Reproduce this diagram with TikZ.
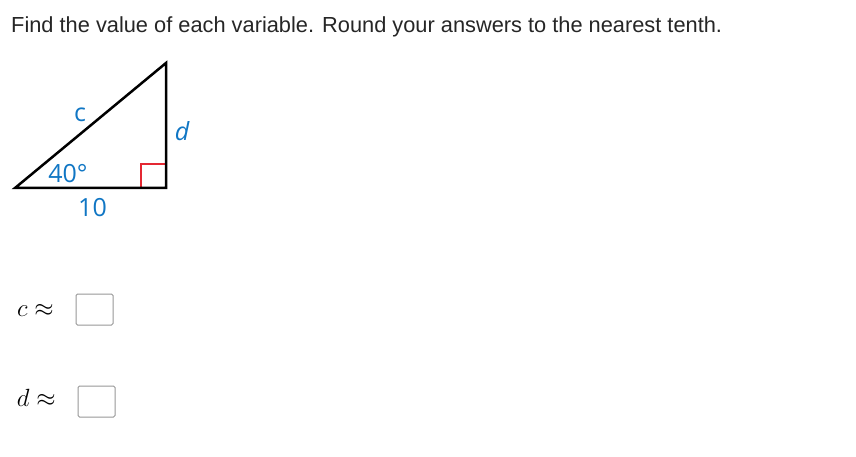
\documentclass[tikz,border=0pt]{standalone}
\usepackage{fontspec}
\setmainfont{Liberation Sans}
\newfontfamily\labelfont{Open Sans}
\usepackage{xcolor}
\usetikzlibrary{positioning}
\definecolor{labelblue}{RGB}{16,118,196}
\definecolor{markred}{RGB}{228,40,50}
\definecolor{boxgray}{RGB}{150,150,150}

\begin{document}
\begin{tikzpicture}[x=1pt, y=-1pt,
    % Styles
    prompt/.style={
        anchor=base west,
        inner sep=0pt,
        font=\fontsize{21.8}{24}\selectfont,
        text=black!85
    },
    sidelabel/.style={
        inner sep=0pt,
        text=labelblue,
        font=\labelfont\fontsize{25}{28}\selectfont
    },
    answer/.style={
        anchor=base east,
        inner sep=0pt,
        font=\fontsize{28}{30}\selectfont
    },
    answerbox/.style={
        rectangle,
        rounded corners=1.5pt,
        draw=boxgray,
        line width=1pt,
        minimum width=37pt,
        minimum height=31pt
    }
]
\useasboundingbox (0,0) rectangle (856,457);

% Instruction line
\node[prompt] (prompt) at (11,33) {Find the value of each variable. Round your answers to the nearest tenth.};

% Triangle
\coordinate (A) at (15,188);
\coordinate (B) at (166,188);
\coordinate (C) at (166,63);
\draw[markred, line width=1.2pt] (141,188) |- (166,164);
\draw[line width=2.5pt, line join=miter] (A) -- (B) -- (C) -- cycle;

% Labels
\node[sidelabel] (hyp) at (80,115) {c};
\node[sidelabel] (leg) at (182,131) {\itshape d};
\node[sidelabel] (angle) at (68,174) {40°};
\node[sidelabel] (base) at (92.5,208) {10};

% Answers
\node[answer] (capprox) at (54,316.5) {$c\approx$};
\node[answerbox] (cbox) at (94.5,309.5) {};
\node[answer] (dapprox) at (56,406.5) {$d\approx$};
\node[answerbox] (dbox) at (96.5,401.5) {};

\end{tikzpicture}
\end{document}
